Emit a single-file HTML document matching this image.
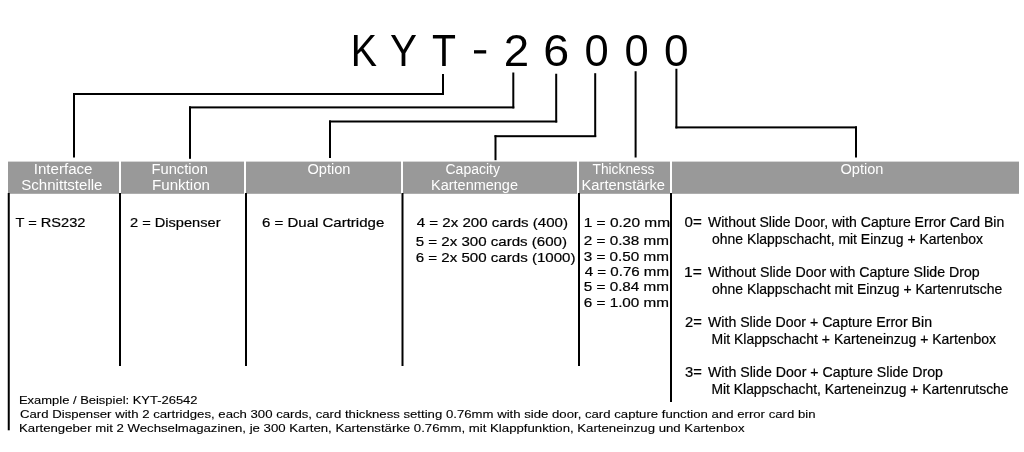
<!DOCTYPE html><html><head><meta charset="utf-8"><style>html,body{margin:0;padding:0;background:#fff;width:1024px;height:452px;overflow:hidden}svg{display:block;will-change:transform}text{font-family:"Liberation Sans",sans-serif;white-space:pre}</style></head><body>
<svg width="1024" height="452" viewBox="0 0 1024 452">
<rect x="0" y="0" width="1024" height="452" fill="#fff"/>
<rect x="8" y="161.6" width="111" height="32.2" fill="#999999"/>
<rect x="121" y="161.6" width="123" height="32.2" fill="#999999"/>
<rect x="246" y="161.6" width="155" height="32.2" fill="#999999"/>
<rect x="403" y="161.6" width="174" height="32.2" fill="#999999"/>
<rect x="579" y="161.6" width="91" height="32.2" fill="#999999"/>
<rect x="672" y="161.6" width="347" height="32.2" fill="#999999"/>
<rect x="474" y="50.2" width="12.2" height="3.3" fill="#000"/>
<rect x="7.75" y="193" width="2" height="237.3" fill="#000"/>
<rect x="119" y="193" width="2" height="173" fill="#000"/>
<rect x="245" y="193" width="2" height="173" fill="#000"/>
<rect x="401.5" y="193" width="2" height="173" fill="#000"/>
<rect x="578" y="193" width="2" height="173" fill="#000"/>
<rect x="670" y="193" width="2" height="209" fill="#000"/>
<rect x="442" y="74" width="2" height="21" fill="#000"/>
<rect x="73" y="93" width="371" height="2" fill="#000"/>
<rect x="73" y="93" width="2" height="64.5" fill="#000"/>
<rect x="512.3" y="72.5" width="2" height="35.900000000000006" fill="#000"/>
<rect x="189" y="106.4" width="325.29999999999995" height="2" fill="#000"/>
<rect x="189" y="106.4" width="2" height="52.400000000000006" fill="#000"/>
<rect x="555.2" y="73.75" width="2" height="48.75" fill="#000"/>
<rect x="329" y="120.5" width="228.20000000000005" height="2" fill="#000"/>
<rect x="329" y="120.5" width="2" height="37.5" fill="#000"/>
<rect x="594.2" y="73.2" width="2" height="63.8" fill="#000"/>
<rect x="494.5" y="135.2" width="101.70000000000005" height="2" fill="#000"/>
<rect x="494.5" y="135.2" width="2" height="25.0" fill="#000"/>
<rect x="634.6" y="71.25" width="2" height="86.25" fill="#000"/>
<rect x="675.4" y="68.75" width="2" height="59.650000000000006" fill="#000"/>
<rect x="675.4" y="126.4" width="181.60000000000002" height="2" fill="#000"/>
<rect x="855" y="126.4" width="2" height="31.099999999999994" fill="#000"/>
<text id="h1a" x="33.73" y="173.90" font-size="14" fill="#fff" textLength="58.80" lengthAdjust="spacingAndGlyphs">Interface</text>
<text id="h1b" x="21.26" y="189.80" font-size="14" fill="#fff" textLength="81.25" lengthAdjust="spacingAndGlyphs">Schnittstelle</text>
<text id="h2a" x="151.47" y="173.90" font-size="14" fill="#fff" textLength="56.53" lengthAdjust="spacingAndGlyphs">Function</text>
<text id="h2b" x="152.00" y="189.80" font-size="14" fill="#fff" textLength="58.00" lengthAdjust="spacingAndGlyphs">Funktion</text>
<text id="h3a" x="307.51" y="173.90" font-size="14" fill="#fff" textLength="42.98" lengthAdjust="spacingAndGlyphs">Option</text>
<text id="h4a" x="445.49" y="173.90" font-size="14" fill="#fff" textLength="54.51" lengthAdjust="spacingAndGlyphs">Capacity</text>
<text id="h4b" x="431.01" y="189.80" font-size="14" fill="#fff" textLength="86.99" lengthAdjust="spacingAndGlyphs">Kartenmenge</text>
<text id="h5a" x="592.51" y="173.90" font-size="14" fill="#fff" textLength="61.98" lengthAdjust="spacingAndGlyphs">Thickness</text>
<text id="h5b" x="581.48" y="189.80" font-size="14" fill="#fff" textLength="83.52" lengthAdjust="spacingAndGlyphs">Kartenstärke</text>
<text id="h6a" x="840.51" y="173.90" font-size="14" fill="#fff" textLength="42.98" lengthAdjust="spacingAndGlyphs">Option</text>
<text id="b1" x="15.49" y="227.00" font-size="13.6" fill="#000" stroke="#000" stroke-width="0.2" textLength="70.00" lengthAdjust="spacingAndGlyphs">T = RS232</text>
<text id="b2" x="130.00" y="227.00" font-size="13.6" fill="#000" stroke="#000" stroke-width="0.2" textLength="90.53" lengthAdjust="spacingAndGlyphs">2 = Dispenser</text>
<text id="b3" x="262.00" y="227.00" font-size="13.6" fill="#000" stroke="#000" stroke-width="0.2" textLength="122.25" lengthAdjust="spacingAndGlyphs">6 = Dual Cartridge</text>
<text id="c1" x="416.74" y="227.00" font-size="13.6" fill="#000" stroke="#000" stroke-width="0.2" textLength="151.26" lengthAdjust="spacingAndGlyphs">4 = 2x 200 cards (400)</text>
<text id="c2" x="415.75" y="246.00" font-size="13.6" fill="#000" stroke="#000" stroke-width="0.2" textLength="151.25" lengthAdjust="spacingAndGlyphs">5 = 2x 300 cards (600)</text>
<text id="c3" x="415.74" y="261.70" font-size="13.6" fill="#000" stroke="#000" stroke-width="0.2" textLength="159.77" lengthAdjust="spacingAndGlyphs">6 = 2x 500 cards (1000)</text>
<text id="t1" x="583.71" y="227.00" font-size="13.6" fill="#000" stroke="#000" stroke-width="0.2" textLength="86.33" lengthAdjust="spacingAndGlyphs">1 = 0.20 mm</text>
<text id="t2" x="583.77" y="245.00" font-size="13.6" fill="#000" stroke="#000" stroke-width="0.2" textLength="85.25" lengthAdjust="spacingAndGlyphs">2 = 0.38 mm</text>
<text id="t3" x="583.73" y="260.50" font-size="13.6" fill="#000" stroke="#000" stroke-width="0.2" textLength="85.29" lengthAdjust="spacingAndGlyphs">3 = 0.50 mm</text>
<text id="t4" x="584.73" y="276.00" font-size="13.6" fill="#000" stroke="#000" stroke-width="0.2" textLength="84.29" lengthAdjust="spacingAndGlyphs">4 = 0.76 mm</text>
<text id="t5" x="583.77" y="291.30" font-size="13.6" fill="#000" stroke="#000" stroke-width="0.2" textLength="85.25" lengthAdjust="spacingAndGlyphs">5 = 0.84 mm</text>
<text id="t6" x="583.77" y="307.00" font-size="13.6" fill="#000" stroke="#000" stroke-width="0.2" textLength="85.25" lengthAdjust="spacingAndGlyphs">6 = 1.00 mm</text>
<text id="o0n" x="684.49" y="227.10" font-size="14.1" fill="#000" stroke="#000" stroke-width="0.2" textLength="17.26" lengthAdjust="spacingAndGlyphs">0=</text>
<text id="o0a" x="708.00" y="227.10" font-size="14.1" fill="#000" stroke="#000" stroke-width="0.2" textLength="296.25" lengthAdjust="spacingAndGlyphs">Without Slide Door, with Capture Error Card Bin</text>
<text id="o0b" x="712.00" y="243.60" font-size="14.1" fill="#000" stroke="#000" stroke-width="0.2" textLength="271.00" lengthAdjust="spacingAndGlyphs">ohne Klappschacht, mit Einzug + Kartenbox</text>
<text id="o1n" x="684.03" y="277.00" font-size="14.1" fill="#000" stroke="#000" stroke-width="0.2" textLength="17.79" lengthAdjust="spacingAndGlyphs">1=</text>
<text id="o1a" x="708.00" y="277.00" font-size="14.1" fill="#000" stroke="#000" stroke-width="0.2" textLength="271.75" lengthAdjust="spacingAndGlyphs">Without Slide Door with Capture Slide Drop</text>
<text id="o1b" x="712.00" y="293.60" font-size="14.1" fill="#000" stroke="#000" stroke-width="0.2" textLength="290.26" lengthAdjust="spacingAndGlyphs">ohne Klappschacht mit Einzug + Kartenrutsche</text>
<text id="o2n" x="685.00" y="327.00" font-size="14.1" fill="#000" stroke="#000" stroke-width="0.2" textLength="16.80" lengthAdjust="spacingAndGlyphs">2=</text>
<text id="o2a" x="708.00" y="327.00" font-size="14.1" fill="#000" stroke="#000" stroke-width="0.2" textLength="224.00" lengthAdjust="spacingAndGlyphs">With Slide Door + Capture Error Bin</text>
<text id="o2b" x="711.50" y="344.00" font-size="14.1" fill="#000" stroke="#000" stroke-width="0.2" textLength="284.50" lengthAdjust="spacingAndGlyphs">Mit Klappschacht + Karteneinzug + Kartenbox</text>
<text id="o3n" x="685.00" y="377.00" font-size="14.1" fill="#000" stroke="#000" stroke-width="0.2" textLength="16.80" lengthAdjust="spacingAndGlyphs">3=</text>
<text id="o3a" x="708.00" y="377.00" font-size="14.1" fill="#000" stroke="#000" stroke-width="0.2" textLength="235.00" lengthAdjust="spacingAndGlyphs">With Slide Door + Capture Slide Drop</text>
<text id="o3b" x="711.50" y="394.00" font-size="14.1" fill="#000" stroke="#000" stroke-width="0.2" textLength="297.00" lengthAdjust="spacingAndGlyphs">Mit Klappschacht, Karteneinzug + Kartenrutsche</text>
<text id="f1" x="18.99" y="403.90" font-size="11.3" fill="#000" stroke="#000" stroke-width="0.12" textLength="178.51" lengthAdjust="spacingAndGlyphs">Example / Beispiel: KYT-26542</text>
<text id="f2" x="20.00" y="417.70" font-size="11.3" fill="#000" stroke="#000" stroke-width="0.12" textLength="795.50" lengthAdjust="spacingAndGlyphs">Card Dispenser with 2 cartridges, each 300 cards, card thickness setting 0.76mm with side door, card capture function and error card bin</text>
<text id="f3" x="19.00" y="432.30" font-size="11.3" fill="#000" stroke="#000" stroke-width="0.12" textLength="725.50" lengthAdjust="spacingAndGlyphs">Kartengeber mit 2 Wechselmagazinen, je 300 Karten, Kartenstärke 0.76mm, mit Klappfunktion, Karteneinzug und Kartenbox</text>
<text id="k1" x="350.85" y="66.00" font-size="43.5" fill="#000" textLength="26.24" lengthAdjust="spacingAndGlyphs">K</text>
<text id="k2" x="390.00" y="66.00" font-size="43.5" fill="#000" textLength="27.00" lengthAdjust="spacingAndGlyphs">Y</text>
<text id="k3" x="432.00" y="66.00" font-size="43.5" fill="#000" textLength="23.96" lengthAdjust="spacingAndGlyphs">T</text>
<text id="k5" x="503.79" y="66.00" font-size="43.5" fill="#000" textLength="25.42" lengthAdjust="spacingAndGlyphs">2</text>
<text id="k6" x="543.30" y="66.00" font-size="43.5" fill="#000" textLength="25.91" lengthAdjust="spacingAndGlyphs">6</text>
<text id="k7" x="584.40" y="66.00" font-size="43.5" fill="#000" textLength="24.20" lengthAdjust="spacingAndGlyphs">0</text>
<text id="k8" x="624.40" y="66.00" font-size="43.5" fill="#000" textLength="24.20" lengthAdjust="spacingAndGlyphs">0</text>
<text id="k9" x="664.00" y="66.00" font-size="43.5" fill="#000" textLength="24.55" lengthAdjust="spacingAndGlyphs">0</text>
</svg></body></html>
